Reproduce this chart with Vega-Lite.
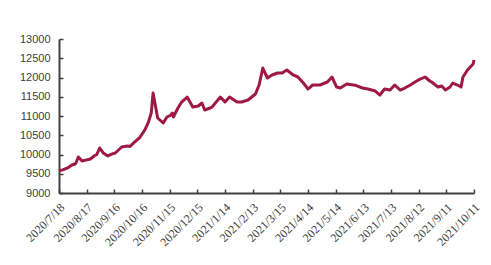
{
  "$schema": "https://vega.github.io/schema/vega-lite/v6.json",
  "width": 415,
  "height": 154,
  "autosize": "none",
  "padding": {"left": 59, "top": 39, "right": 17, "bottom": 72},
  "background": "white",
  "config": {"view": {"stroke": null}},
  "data": {"values": [
    {"date": "2020-07-18", "price": 9580},
    {"date": "2020-07-22", "price": 9600},
    {"date": "2020-07-28", "price": 9660},
    {"date": "2020-08-01", "price": 9727},
    {"date": "2020-08-05", "price": 9760},
    {"date": "2020-08-08", "price": 9935},
    {"date": "2020-08-12", "price": 9831},
    {"date": "2020-08-17", "price": 9860},
    {"date": "2020-08-21", "price": 9883},
    {"date": "2020-08-25", "price": 9961},
    {"date": "2020-08-28", "price": 10000},
    {"date": "2020-08-31", "price": 10169},
    {"date": "2020-09-04", "price": 10040},
    {"date": "2020-09-09", "price": 9961},
    {"date": "2020-09-13", "price": 10010},
    {"date": "2020-09-17", "price": 10039},
    {"date": "2020-09-24", "price": 10195},
    {"date": "2020-09-30", "price": 10221},
    {"date": "2020-10-03", "price": 10210},
    {"date": "2020-10-07", "price": 10300},
    {"date": "2020-10-14", "price": 10454},
    {"date": "2020-10-19", "price": 10636},
    {"date": "2020-10-23", "price": 10844},
    {"date": "2020-10-26", "price": 11077},
    {"date": "2020-10-28", "price": 11597},
    {"date": "2020-10-30", "price": 11337},
    {"date": "2020-11-02", "price": 10948},
    {"date": "2020-11-08", "price": 10818},
    {"date": "2020-11-12", "price": 10974},
    {"date": "2020-11-16", "price": 11020},
    {"date": "2020-11-18", "price": 11077},
    {"date": "2020-11-19", "price": 10974},
    {"date": "2020-11-24", "price": 11207},
    {"date": "2020-11-28", "price": 11363},
    {"date": "2020-12-04", "price": 11493},
    {"date": "2020-12-10", "price": 11233},
    {"date": "2020-12-16", "price": 11259},
    {"date": "2020-12-20", "price": 11337},
    {"date": "2020-12-23", "price": 11155},
    {"date": "2020-12-29", "price": 11207},
    {"date": "2020-12-31", "price": 11233},
    {"date": "2021-01-05", "price": 11380},
    {"date": "2021-01-09", "price": 11493},
    {"date": "2021-01-14", "price": 11363},
    {"date": "2021-01-19", "price": 11493},
    {"date": "2021-01-27", "price": 11363},
    {"date": "2021-02-01", "price": 11363},
    {"date": "2021-02-08", "price": 11415},
    {"date": "2021-02-16", "price": 11571},
    {"date": "2021-02-20", "price": 11805},
    {"date": "2021-02-24", "price": 12246},
    {"date": "2021-03-01", "price": 11987},
    {"date": "2021-03-06", "price": 12065},
    {"date": "2021-03-12", "price": 12116},
    {"date": "2021-03-17", "price": 12116},
    {"date": "2021-03-22", "price": 12194},
    {"date": "2021-03-29", "price": 12065},
    {"date": "2021-04-03", "price": 12013},
    {"date": "2021-04-09", "price": 11857},
    {"date": "2021-04-14", "price": 11701},
    {"date": "2021-04-19", "price": 11805},
    {"date": "2021-04-27", "price": 11805},
    {"date": "2021-05-05", "price": 11883},
    {"date": "2021-05-10", "price": 12013},
    {"date": "2021-05-15", "price": 11753},
    {"date": "2021-05-19", "price": 11727},
    {"date": "2021-05-26", "price": 11831},
    {"date": "2021-06-04", "price": 11800},
    {"date": "2021-06-12", "price": 11727},
    {"date": "2021-06-18", "price": 11701},
    {"date": "2021-06-26", "price": 11649},
    {"date": "2021-07-01", "price": 11545},
    {"date": "2021-07-06", "price": 11701},
    {"date": "2021-07-12", "price": 11675},
    {"date": "2021-07-17", "price": 11805},
    {"date": "2021-07-23", "price": 11675},
    {"date": "2021-07-28", "price": 11727},
    {"date": "2021-08-03", "price": 11805},
    {"date": "2021-08-08", "price": 11883},
    {"date": "2021-08-13", "price": 11950},
    {"date": "2021-08-19", "price": 12013},
    {"date": "2021-08-24", "price": 11909},
    {"date": "2021-08-26", "price": 11883},
    {"date": "2021-09-02", "price": 11753},
    {"date": "2021-09-06", "price": 11780},
    {"date": "2021-09-10", "price": 11675},
    {"date": "2021-09-15", "price": 11753},
    {"date": "2021-09-18", "price": 11857},
    {"date": "2021-09-23", "price": 11805},
    {"date": "2021-09-27", "price": 11753},
    {"date": "2021-09-29", "price": 12013},
    {"date": "2021-10-04", "price": 12194},
    {"date": "2021-10-10", "price": 12350},
    {"date": "2021-10-11", "price": 12454}
  ]},
  "mark": {"type": "line", "color": "#9E1A44", "strokeWidth": 3, "strokeJoin": "round"},
  "encoding": {
    "x": {
      "field": "date", "type": "temporal",
      "scale": {"domain": [{"year": 2020, "month": 7, "date": 18}, {"year": 2021, "month": 10, "date": 11}]},
      "axis": {
        "title": null,
        "grid": false,
        "values": [
          {"year": 2020, "month": 7, "date": 18},
          {"year": 2020, "month": 8, "date": 17},
          {"year": 2020, "month": 9, "date": 16},
          {"year": 2020, "month": 10, "date": 16},
          {"year": 2020, "month": 11, "date": 15},
          {"year": 2020, "month": 12, "date": 15},
          {"year": 2021, "month": 1, "date": 14},
          {"year": 2021, "month": 2, "date": 13},
          {"year": 2021, "month": 3, "date": 15},
          {"year": 2021, "month": 4, "date": 14},
          {"year": 2021, "month": 5, "date": 14},
          {"year": 2021, "month": 6, "date": 13},
          {"year": 2021, "month": 7, "date": 13},
          {"year": 2021, "month": 8, "date": 12},
          {"year": 2021, "month": 9, "date": 11},
          {"year": 2021, "month": 10, "date": 11}
        ],
        "format": "%Y/%-m/%-d",
        "labelAngle": -45,
        "labelAlign": "right",
        "labelBaseline": "middle",
        "labelFont": "Liberation Serif",
        "labelFontSize": 12,
        "labelColor": "#404040",
        "labelPadding": 16,
        "labelOffset": 3,
        "labelOverlap": false,
        "labelFlush": false,
        "domainColor": "#404040",
        "domainWidth": 2,
        "tickColor": "#404040",
        "tickWidth": 1.5,
        "tickSize": -4
      }
    },
    "y": {
      "field": "price", "type": "quantitative",
      "scale": {"domain": [9000, 13000], "nice": false, "zero": false},
      "axis": {
        "title": null,
        "grid": false,
        "values": [9000, 9500, 10000, 10500, 11000, 11500, 12000, 12500, 13000],
        "format": "d",
        "labelFont": "Liberation Sans",
        "labelFontSize": 11,
        "labelColor": "#404040",
        "labelPadding": 13,
        "domainColor": "#404040",
        "domainWidth": 2,
        "tickColor": "#404040",
        "tickWidth": 1.5,
        "tickSize": -4
      }
    }
  }
}
